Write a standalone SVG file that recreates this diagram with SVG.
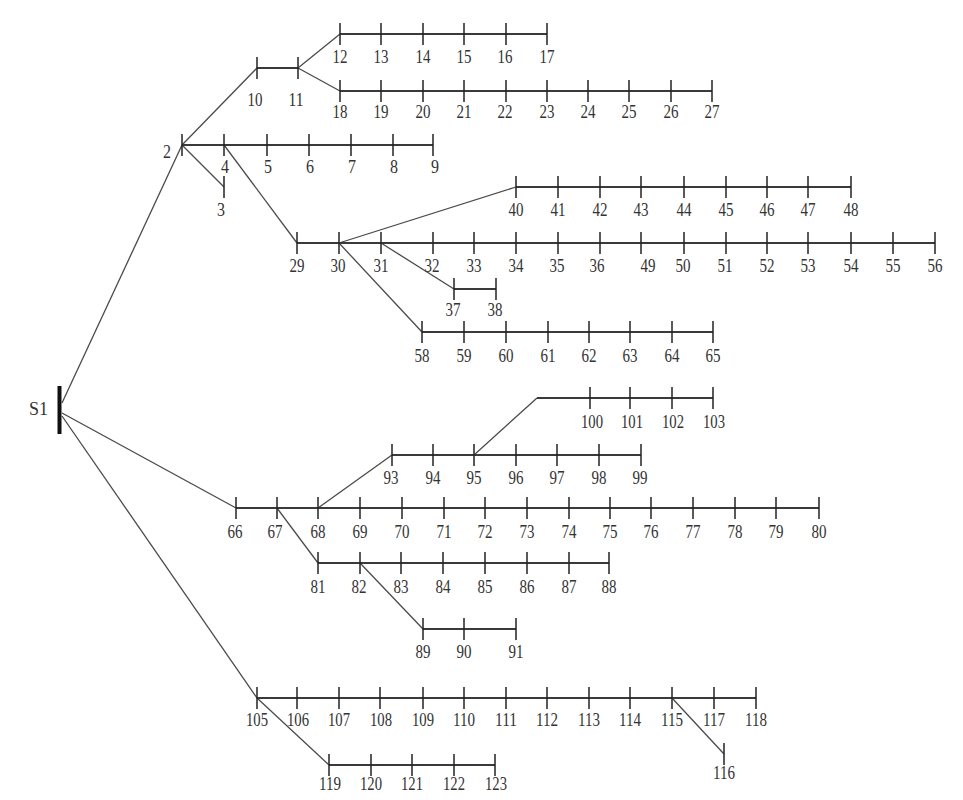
<svg xmlns="http://www.w3.org/2000/svg" xmlns:xlink="http://www.w3.org/1999/xlink" width="963" height="800" viewBox="0 0 963 800">
<style>
.bus{stroke:#3a3a3a;stroke-width:1.8;fill:none}
.dg{stroke:#4a4a4a;stroke-width:1.3;fill:none}
.tk{stroke:#222;stroke-width:1.5}
text{font-family:"Liberation Serif","Times New Roman",serif;font-size:19px;fill:#333;text-anchor:middle}
.s1{font-size:18px;text-anchor:start}
</style>
<defs>
<line id="tk" class="tk" x1="0" y1="-11" x2="0" y2="11"/>
</defs>
<rect width="963" height="800" fill="#fff"/>
<g id="connectors">
<line class="dg" x1="62" y1="403" x2="182" y2="145"/>
<line class="dg" x1="182" y1="145" x2="257" y2="68"/>
<line class="dg" x1="298" y1="68" x2="340" y2="34"/>
<line class="dg" x1="298" y1="68" x2="340" y2="91"/>
<line class="dg" x1="182" y1="145" x2="224" y2="187"/>
<line class="dg" x1="224" y1="145" x2="297" y2="243"/>
<line class="dg" x1="339" y1="243" x2="516" y2="187"/>
<line class="dg" x1="381" y1="243" x2="454" y2="289"/>
<line class="dg" x1="339" y1="243" x2="422" y2="332"/>
<line class="dg" x1="62" y1="413" x2="236" y2="508"/>
<line class="dg" x1="318" y1="508" x2="392" y2="455"/>
<line class="dg" x1="474" y1="455" x2="537" y2="398"/>
<line class="dg" x1="277" y1="508" x2="318" y2="563"/>
<line class="dg" x1="360" y1="563" x2="423" y2="629"/>
<line class="dg" x1="62" y1="416" x2="257" y2="698"/>
<line class="dg" x1="257" y1="698" x2="329" y2="765"/>
<line class="dg" x1="672" y1="698" x2="724" y2="754"/>
<line class="bus" x1="257" y1="68" x2="298" y2="68"/>
<line class="bus" x1="340" y1="34" x2="547" y2="34"/>
<line class="bus" x1="340" y1="91" x2="712" y2="91"/>
<line class="bus" x1="182" y1="145" x2="433" y2="145"/>
<line class="bus" x1="297" y1="243" x2="935" y2="243"/>
<line class="bus" x1="516" y1="187" x2="851" y2="187"/>
<line class="bus" x1="454" y1="289" x2="496" y2="289"/>
<line class="bus" x1="422" y1="332" x2="713" y2="332"/>
<line class="bus" x1="537" y1="398" x2="713" y2="398"/>
<line class="bus" x1="392" y1="455" x2="641" y2="455"/>
<line class="bus" x1="236" y1="508" x2="819" y2="508"/>
<line class="bus" x1="318" y1="563" x2="609" y2="563"/>
<line class="bus" x1="423" y1="629" x2="516" y2="629"/>
<line class="bus" x1="257" y1="698" x2="756" y2="698"/>
<line class="bus" x1="329" y1="765" x2="495" y2="765"/>
</g>
<g id="S1"><rect x="57.5" y="386" width="4" height="48" fill="#111"/><text class="s1" x="29" y="415">S1</text></g>
<g id="n2"><use href="#tk" x="182" y="145"/><text x="167" y="158" textLength="8" lengthAdjust="spacingAndGlyphs">2</text></g>
<g id="n3"><use href="#tk" x="224" y="187"/><text x="221" y="216" textLength="8" lengthAdjust="spacingAndGlyphs">3</text></g>
<g id="n4"><use href="#tk" x="224" y="145"/><text x="225" y="173" textLength="8" lengthAdjust="spacingAndGlyphs">4</text></g>
<g id="n5"><use href="#tk" x="267" y="145"/><text x="268" y="173" textLength="8" lengthAdjust="spacingAndGlyphs">5</text></g>
<g id="n6"><use href="#tk" x="309" y="145"/><text x="310" y="173" textLength="8" lengthAdjust="spacingAndGlyphs">6</text></g>
<g id="n7"><use href="#tk" x="351" y="145"/><text x="352" y="173" textLength="8" lengthAdjust="spacingAndGlyphs">7</text></g>
<g id="n8"><use href="#tk" x="393" y="145"/><text x="394" y="173" textLength="8" lengthAdjust="spacingAndGlyphs">8</text></g>
<g id="n9"><use href="#tk" x="433" y="145"/><text x="435" y="173" textLength="8" lengthAdjust="spacingAndGlyphs">9</text></g>
<g id="n10"><use href="#tk" x="257" y="68"/><text x="255" y="106" textLength="15" lengthAdjust="spacingAndGlyphs">10</text></g>
<g id="n11"><use href="#tk" x="298" y="68"/><text x="296" y="106" textLength="15" lengthAdjust="spacingAndGlyphs">11</text></g>
<g id="n12"><use href="#tk" x="340" y="34"/><text x="340" y="63" textLength="15" lengthAdjust="spacingAndGlyphs">12</text></g>
<g id="n13"><use href="#tk" x="381" y="34"/><text x="381" y="63" textLength="15" lengthAdjust="spacingAndGlyphs">13</text></g>
<g id="n14"><use href="#tk" x="423" y="34"/><text x="423" y="63" textLength="15" lengthAdjust="spacingAndGlyphs">14</text></g>
<g id="n15"><use href="#tk" x="464" y="34"/><text x="464" y="63" textLength="15" lengthAdjust="spacingAndGlyphs">15</text></g>
<g id="n16"><use href="#tk" x="506" y="34"/><text x="505" y="63" textLength="15" lengthAdjust="spacingAndGlyphs">16</text></g>
<g id="n17"><use href="#tk" x="547" y="34"/><text x="547" y="63" textLength="15" lengthAdjust="spacingAndGlyphs">17</text></g>
<g id="n18"><use href="#tk" x="340" y="91"/><text x="340" y="118" textLength="15" lengthAdjust="spacingAndGlyphs">18</text></g>
<g id="n19"><use href="#tk" x="381" y="91"/><text x="381" y="118" textLength="15" lengthAdjust="spacingAndGlyphs">19</text></g>
<g id="n20"><use href="#tk" x="423" y="91"/><text x="423" y="118" textLength="15" lengthAdjust="spacingAndGlyphs">20</text></g>
<g id="n21"><use href="#tk" x="464" y="91"/><text x="464" y="118" textLength="15" lengthAdjust="spacingAndGlyphs">21</text></g>
<g id="n22"><use href="#tk" x="506" y="91"/><text x="505" y="118" textLength="15" lengthAdjust="spacingAndGlyphs">22</text></g>
<g id="n23"><use href="#tk" x="547" y="91"/><text x="547" y="118" textLength="15" lengthAdjust="spacingAndGlyphs">23</text></g>
<g id="n24"><use href="#tk" x="588" y="91"/><text x="588" y="118" textLength="15" lengthAdjust="spacingAndGlyphs">24</text></g>
<g id="n25"><use href="#tk" x="629" y="91"/><text x="629" y="118" textLength="15" lengthAdjust="spacingAndGlyphs">25</text></g>
<g id="n26"><use href="#tk" x="671" y="91"/><text x="671" y="118" textLength="15" lengthAdjust="spacingAndGlyphs">26</text></g>
<g id="n27"><use href="#tk" x="712" y="91"/><text x="712" y="118" textLength="15" lengthAdjust="spacingAndGlyphs">27</text></g>
<g id="n29"><use href="#tk" x="297" y="243"/><text x="297" y="272" textLength="15" lengthAdjust="spacingAndGlyphs">29</text></g>
<g id="n30"><use href="#tk" x="339" y="243"/><text x="338" y="272" textLength="15" lengthAdjust="spacingAndGlyphs">30</text></g>
<g id="n31"><use href="#tk" x="381" y="243"/><text x="381" y="272" textLength="15" lengthAdjust="spacingAndGlyphs">31</text></g>
<g id="n32"><use href="#tk" x="433" y="243"/><text x="432" y="272" textLength="15" lengthAdjust="spacingAndGlyphs">32</text></g>
<g id="n33"><use href="#tk" x="474" y="243"/><text x="474" y="272" textLength="15" lengthAdjust="spacingAndGlyphs">33</text></g>
<g id="n34"><use href="#tk" x="516" y="243"/><text x="516" y="272" textLength="15" lengthAdjust="spacingAndGlyphs">34</text></g>
<g id="n35"><use href="#tk" x="558" y="243"/><text x="557" y="272" textLength="15" lengthAdjust="spacingAndGlyphs">35</text></g>
<g id="n36"><use href="#tk" x="600" y="243"/><text x="597" y="272" textLength="15" lengthAdjust="spacingAndGlyphs">36</text></g>
<g id="n49"><use href="#tk" x="641" y="243"/><text x="648" y="272" textLength="15" lengthAdjust="spacingAndGlyphs">49</text></g>
<g id="n50"><use href="#tk" x="684" y="243"/><text x="683" y="272" textLength="15" lengthAdjust="spacingAndGlyphs">50</text></g>
<g id="n51"><use href="#tk" x="726" y="243"/><text x="725" y="272" textLength="15" lengthAdjust="spacingAndGlyphs">51</text></g>
<g id="n52"><use href="#tk" x="767" y="243"/><text x="767" y="272" textLength="15" lengthAdjust="spacingAndGlyphs">52</text></g>
<g id="n53"><use href="#tk" x="808" y="243"/><text x="808" y="272" textLength="15" lengthAdjust="spacingAndGlyphs">53</text></g>
<g id="n54"><use href="#tk" x="851" y="243"/><text x="851" y="272" textLength="15" lengthAdjust="spacingAndGlyphs">54</text></g>
<g id="n55"><use href="#tk" x="893" y="243"/><text x="893" y="272" textLength="15" lengthAdjust="spacingAndGlyphs">55</text></g>
<g id="n56"><use href="#tk" x="935" y="243"/><text x="935" y="272" textLength="15" lengthAdjust="spacingAndGlyphs">56</text></g>
<g id="n40"><use href="#tk" x="516" y="187"/><text x="516" y="216" textLength="15" lengthAdjust="spacingAndGlyphs">40</text></g>
<g id="n41"><use href="#tk" x="558" y="187"/><text x="558" y="216" textLength="15" lengthAdjust="spacingAndGlyphs">41</text></g>
<g id="n42"><use href="#tk" x="600" y="187"/><text x="600" y="216" textLength="15" lengthAdjust="spacingAndGlyphs">42</text></g>
<g id="n43"><use href="#tk" x="641" y="187"/><text x="641" y="216" textLength="15" lengthAdjust="spacingAndGlyphs">43</text></g>
<g id="n44"><use href="#tk" x="684" y="187"/><text x="684" y="216" textLength="15" lengthAdjust="spacingAndGlyphs">44</text></g>
<g id="n45"><use href="#tk" x="726" y="187"/><text x="726" y="216" textLength="15" lengthAdjust="spacingAndGlyphs">45</text></g>
<g id="n46"><use href="#tk" x="767" y="187"/><text x="767" y="216" textLength="15" lengthAdjust="spacingAndGlyphs">46</text></g>
<g id="n47"><use href="#tk" x="808" y="187"/><text x="808" y="216" textLength="15" lengthAdjust="spacingAndGlyphs">47</text></g>
<g id="n48"><use href="#tk" x="851" y="187"/><text x="851" y="216" textLength="15" lengthAdjust="spacingAndGlyphs">48</text></g>
<g id="n37"><use href="#tk" x="454" y="289"/><text x="453" y="316" textLength="15" lengthAdjust="spacingAndGlyphs">37</text></g>
<g id="n38"><use href="#tk" x="496" y="289"/><text x="495" y="316" textLength="15" lengthAdjust="spacingAndGlyphs">38</text></g>
<g id="n58"><use href="#tk" x="422" y="332"/><text x="422" y="362" textLength="15" lengthAdjust="spacingAndGlyphs">58</text></g>
<g id="n59"><use href="#tk" x="464" y="332"/><text x="464" y="362" textLength="15" lengthAdjust="spacingAndGlyphs">59</text></g>
<g id="n60"><use href="#tk" x="506" y="332"/><text x="506" y="362" textLength="15" lengthAdjust="spacingAndGlyphs">60</text></g>
<g id="n61"><use href="#tk" x="548" y="332"/><text x="548" y="362" textLength="15" lengthAdjust="spacingAndGlyphs">61</text></g>
<g id="n62"><use href="#tk" x="589" y="332"/><text x="589" y="362" textLength="15" lengthAdjust="spacingAndGlyphs">62</text></g>
<g id="n63"><use href="#tk" x="630" y="332"/><text x="630" y="362" textLength="15" lengthAdjust="spacingAndGlyphs">63</text></g>
<g id="n64"><use href="#tk" x="672" y="332"/><text x="672" y="362" textLength="15" lengthAdjust="spacingAndGlyphs">64</text></g>
<g id="n65"><use href="#tk" x="713" y="332"/><text x="713" y="362" textLength="15" lengthAdjust="spacingAndGlyphs">65</text></g>
<g id="n100"><use href="#tk" x="590" y="398"/><text x="592" y="428" textLength="22" lengthAdjust="spacingAndGlyphs">100</text></g>
<g id="n101"><use href="#tk" x="630" y="398"/><text x="632" y="428" textLength="22" lengthAdjust="spacingAndGlyphs">101</text></g>
<g id="n102"><use href="#tk" x="672" y="398"/><text x="673" y="428" textLength="22" lengthAdjust="spacingAndGlyphs">102</text></g>
<g id="n103"><use href="#tk" x="713" y="398"/><text x="714" y="428" textLength="22" lengthAdjust="spacingAndGlyphs">103</text></g>
<g id="n93"><use href="#tk" x="392" y="455"/><text x="391" y="484" textLength="15" lengthAdjust="spacingAndGlyphs">93</text></g>
<g id="n94"><use href="#tk" x="433" y="455"/><text x="433" y="484" textLength="15" lengthAdjust="spacingAndGlyphs">94</text></g>
<g id="n95"><use href="#tk" x="474" y="455"/><text x="474" y="484" textLength="15" lengthAdjust="spacingAndGlyphs">95</text></g>
<g id="n96"><use href="#tk" x="516" y="455"/><text x="516" y="484" textLength="15" lengthAdjust="spacingAndGlyphs">96</text></g>
<g id="n97"><use href="#tk" x="557" y="455"/><text x="557" y="484" textLength="15" lengthAdjust="spacingAndGlyphs">97</text></g>
<g id="n98"><use href="#tk" x="599" y="455"/><text x="599" y="484" textLength="15" lengthAdjust="spacingAndGlyphs">98</text></g>
<g id="n99"><use href="#tk" x="641" y="455"/><text x="640" y="484" textLength="15" lengthAdjust="spacingAndGlyphs">99</text></g>
<g id="n66"><use href="#tk" x="236" y="508"/><text x="235" y="538" textLength="15" lengthAdjust="spacingAndGlyphs">66</text></g>
<g id="n67"><use href="#tk" x="277" y="508"/><text x="275" y="538" textLength="15" lengthAdjust="spacingAndGlyphs">67</text></g>
<g id="n68"><use href="#tk" x="318" y="508"/><text x="318" y="538" textLength="15" lengthAdjust="spacingAndGlyphs">68</text></g>
<g id="n69"><use href="#tk" x="360" y="508"/><text x="360" y="538" textLength="15" lengthAdjust="spacingAndGlyphs">69</text></g>
<g id="n70"><use href="#tk" x="402" y="508"/><text x="402" y="538" textLength="15" lengthAdjust="spacingAndGlyphs">70</text></g>
<g id="n71"><use href="#tk" x="444" y="508"/><text x="444" y="538" textLength="15" lengthAdjust="spacingAndGlyphs">71</text></g>
<g id="n72"><use href="#tk" x="485" y="508"/><text x="485" y="538" textLength="15" lengthAdjust="spacingAndGlyphs">72</text></g>
<g id="n73"><use href="#tk" x="527" y="508"/><text x="527" y="538" textLength="15" lengthAdjust="spacingAndGlyphs">73</text></g>
<g id="n74"><use href="#tk" x="569" y="508"/><text x="569" y="538" textLength="15" lengthAdjust="spacingAndGlyphs">74</text></g>
<g id="n75"><use href="#tk" x="610" y="508"/><text x="610" y="538" textLength="15" lengthAdjust="spacingAndGlyphs">75</text></g>
<g id="n76"><use href="#tk" x="651" y="508"/><text x="651" y="538" textLength="15" lengthAdjust="spacingAndGlyphs">76</text></g>
<g id="n77"><use href="#tk" x="693" y="508"/><text x="693" y="538" textLength="15" lengthAdjust="spacingAndGlyphs">77</text></g>
<g id="n78"><use href="#tk" x="735" y="508"/><text x="735" y="538" textLength="15" lengthAdjust="spacingAndGlyphs">78</text></g>
<g id="n79"><use href="#tk" x="776" y="508"/><text x="776" y="538" textLength="15" lengthAdjust="spacingAndGlyphs">79</text></g>
<g id="n80"><use href="#tk" x="819" y="508"/><text x="819" y="538" textLength="15" lengthAdjust="spacingAndGlyphs">80</text></g>
<g id="n81"><use href="#tk" x="318" y="563"/><text x="318" y="593" textLength="15" lengthAdjust="spacingAndGlyphs">81</text></g>
<g id="n82"><use href="#tk" x="360" y="563"/><text x="359" y="593" textLength="15" lengthAdjust="spacingAndGlyphs">82</text></g>
<g id="n83"><use href="#tk" x="401" y="563"/><text x="401" y="593" textLength="15" lengthAdjust="spacingAndGlyphs">83</text></g>
<g id="n84"><use href="#tk" x="443" y="563"/><text x="443" y="593" textLength="15" lengthAdjust="spacingAndGlyphs">84</text></g>
<g id="n85"><use href="#tk" x="485" y="563"/><text x="485" y="593" textLength="15" lengthAdjust="spacingAndGlyphs">85</text></g>
<g id="n86"><use href="#tk" x="527" y="563"/><text x="527" y="593" textLength="15" lengthAdjust="spacingAndGlyphs">86</text></g>
<g id="n87"><use href="#tk" x="569" y="563"/><text x="569" y="593" textLength="15" lengthAdjust="spacingAndGlyphs">87</text></g>
<g id="n88"><use href="#tk" x="609" y="563"/><text x="609" y="593" textLength="15" lengthAdjust="spacingAndGlyphs">88</text></g>
<g id="n89"><use href="#tk" x="423" y="629"/><text x="423" y="658" textLength="15" lengthAdjust="spacingAndGlyphs">89</text></g>
<g id="n90"><use href="#tk" x="464" y="629"/><text x="464" y="658" textLength="15" lengthAdjust="spacingAndGlyphs">90</text></g>
<g id="n91"><use href="#tk" x="516" y="629"/><text x="516" y="658" textLength="15" lengthAdjust="spacingAndGlyphs">91</text></g>
<g id="n105"><use href="#tk" x="257" y="698"/><text x="257" y="726" textLength="22" lengthAdjust="spacingAndGlyphs">105</text></g>
<g id="n106"><use href="#tk" x="297" y="698"/><text x="298" y="726" textLength="22" lengthAdjust="spacingAndGlyphs">106</text></g>
<g id="n107"><use href="#tk" x="339" y="698"/><text x="339" y="726" textLength="22" lengthAdjust="spacingAndGlyphs">107</text></g>
<g id="n108"><use href="#tk" x="380" y="698"/><text x="381" y="726" textLength="22" lengthAdjust="spacingAndGlyphs">108</text></g>
<g id="n109"><use href="#tk" x="423" y="698"/><text x="423" y="726" textLength="22" lengthAdjust="spacingAndGlyphs">109</text></g>
<g id="n110"><use href="#tk" x="464" y="698"/><text x="464" y="726" textLength="22" lengthAdjust="spacingAndGlyphs">110</text></g>
<g id="n111"><use href="#tk" x="506" y="698"/><text x="506" y="726" textLength="22" lengthAdjust="spacingAndGlyphs">111</text></g>
<g id="n112"><use href="#tk" x="547" y="698"/><text x="547" y="726" textLength="22" lengthAdjust="spacingAndGlyphs">112</text></g>
<g id="n113"><use href="#tk" x="589" y="698"/><text x="589" y="726" textLength="22" lengthAdjust="spacingAndGlyphs">113</text></g>
<g id="n114"><use href="#tk" x="630" y="698"/><text x="630" y="726" textLength="22" lengthAdjust="spacingAndGlyphs">114</text></g>
<g id="n115"><use href="#tk" x="672" y="698"/><text x="672" y="726" textLength="22" lengthAdjust="spacingAndGlyphs">115</text></g>
<g id="n117"><use href="#tk" x="714" y="698"/><text x="714" y="726" textLength="22" lengthAdjust="spacingAndGlyphs">117</text></g>
<g id="n118"><use href="#tk" x="756" y="698"/><text x="756" y="726" textLength="22" lengthAdjust="spacingAndGlyphs">118</text></g>
<g id="n116"><use href="#tk" x="724" y="754"/><text x="724" y="779" textLength="22" lengthAdjust="spacingAndGlyphs">116</text></g>
<g id="n119"><use href="#tk" x="329" y="765"/><text x="330" y="790" textLength="22" lengthAdjust="spacingAndGlyphs">119</text></g>
<g id="n120"><use href="#tk" x="371" y="765"/><text x="371" y="790" textLength="22" lengthAdjust="spacingAndGlyphs">120</text></g>
<g id="n121"><use href="#tk" x="412" y="765"/><text x="412" y="790" textLength="22" lengthAdjust="spacingAndGlyphs">121</text></g>
<g id="n122"><use href="#tk" x="454" y="765"/><text x="454" y="790" textLength="22" lengthAdjust="spacingAndGlyphs">122</text></g>
<g id="n123"><use href="#tk" x="495" y="765"/><text x="496" y="790" textLength="22" lengthAdjust="spacingAndGlyphs">123</text></g>
</svg>
